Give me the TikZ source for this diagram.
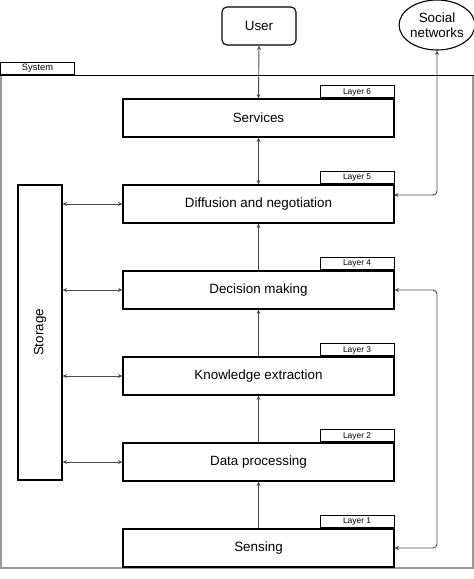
\documentclass[tikz,border=0pt]{standalone}
\usepackage{fontspec}
\setmainfont{Liberation Sans}
\usetikzlibrary{arrows.meta,shapes.geometric,calc}
\begin{document}
\begin{tikzpicture}[x=1pt,y=-1pt,
  layerbox/.style={draw=black,line width=1.1pt,minimum width=271pt,minimum height=38pt,inner sep=0pt,font=\fontsize{13.4}{15}\selectfont},
  tabbox/.style={draw=black,line width=1pt,minimum width=74pt,minimum height=12pt,inner sep=0pt,anchor=south east,font=\fontsize{8.4}{9}\selectfont},
  conn/.style={draw=black!70,line width=0.9pt,{Stealth[length=4.5pt,width=4pt]}-{Stealth[length=4.5pt,width=4pt]}},
  up/.style={draw=black!70,line width=0.9pt,-{Stealth[length=4.5pt,width=4pt]}},
  bigtext/.style={font=\fontsize{13.4}{15.5}\selectfont}]
\useasboundingbox (0,0) rectangle (474,579);
% system frame
\draw[black!40,line width=1.6pt] (1,75) -- (1,568) -- (473,568) -- (473,75);
\draw[black,line width=1pt] (0,75) -- (474,75);
\node[draw=black,line width=1pt,minimum width=74pt,minimum height=12pt,inner sep=0pt,anchor=south west,font=\fontsize{9.3}{10}\selectfont] (sys) at (0,75) {System};
% external
\node[draw=black,line width=1.1pt,rounded corners=5pt,minimum width=74pt,minimum height=38pt,inner sep=0pt,bigtext] (user) at (259,26) {User};
\node[draw=black,line width=1.1pt,ellipse,minimum width=73pt,minimum height=50pt,inner sep=0pt,align=center,bigtext] (social) at (437,25) {Social\\networks};
% layers
\node[layerbox] (serv) at (258.5,118) {Services};
\node[layerbox] (diff) at (258.5,204) {Diffusion and negotiation};
\node[layerbox] (dec) at (258.5,290) {Decision making};
\node[layerbox] (know) at (258.5,376) {Knowledge extraction};
\node[layerbox] (data) at (258.5,462) {Data processing};
\node[layerbox] (sens) at (258.5,548) {Sensing};
\node[tabbox] (t6) at (serv.north east) {Layer 6};
\node[tabbox] (t5) at (diff.north east) {Layer 5};
\node[tabbox] (t4) at (dec.north east) {Layer 4};
\node[tabbox] (t3) at (know.north east) {Layer 3};
\node[tabbox] (t2) at (data.north east) {Layer 2};
\node[tabbox] (t1) at (sens.north east) {Layer 1};
% storage
\node[draw=black,line width=1.1pt,minimum width=44pt,minimum height=295pt,inner sep=0pt] (stor) at (40,332.5) {};
\node[rotate=90,bigtext] (storlbl) at (stor.center) {Storage};
% vertical connectors
\draw[conn] (user.south) -- (serv.north);
\draw[conn] (serv.south) -- (diff.north);
\draw[up] (dec.north) -- (diff.south);
\draw[up] (know.north) -- (dec.south);
\draw[up] (data.north) -- (know.south);
\draw[up] (sens.north) -- (data.south);
% storage connectors
\draw[conn] (stor.east |- diff.west) -- (diff.west);
\draw[conn] (stor.east |- dec.west) -- (dec.west);
\draw[conn] (stor.east |- know.west) -- (know.west);
\draw[conn] (stor.east |- data.west) -- (data.west);
% social
\coordinate (snin) at (394,195);
\draw[conn,rounded corners=4pt] (social.south) |- (snin);
% right loop
\coordinate (loopx) at (437,0);
\draw[conn,rounded corners=4pt] (dec.east) -- (dec.east -| loopx) |- (sens.east);
\end{tikzpicture}
\end{document}
